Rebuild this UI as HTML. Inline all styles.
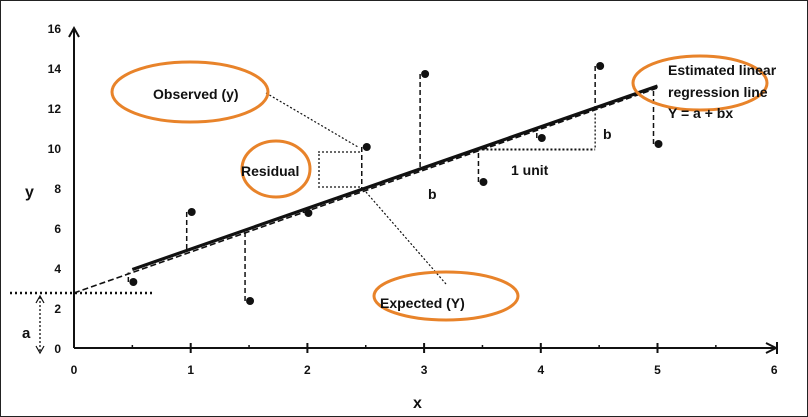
<!DOCTYPE html>
<html><head><meta charset="utf-8"><style>
html,body{margin:0;padding:0;background:#fff}
svg{display:block}
text{font-family:"Liberation Sans",Verdana,sans-serif;font-weight:bold;fill:#111}
</style></head><body>
<svg id="c" width="808" height="417" viewBox="0 0 808 417">
<rect x="0.5" y="0.5" width="807" height="416" fill="#fff" stroke="#222"/>
<g id="g"></g>
</svg>
<script>
const xTicks=[0,1,2,3,4,5,6];
const yTicks=[0,2,4,6,8,10,12,14,16];
const obsX=[0.5,1,1.5,2,2.5,3,3.5,4,4.5,5];
const obsY=[3.3,6.8,2.35,6.75,10.05,13.7,8.3,10.5,14.1,10.2];
const intercept=[2.75];
const slope=[2.05];
const X=v=>74+v*116.7, Y=v=>348-v*20;
const ns="http://www.w3.org/2000/svg", g=document.getElementById('g');
function el(t,a,txt){const e=document.createElementNS(ns,t);for(const k in a)e.setAttribute(k,a[k]);if(txt!=null)e.textContent=txt;g.appendChild(e);return e;}
const a=intercept[0], b=slope[0], f=x=>a+b*x;
let e=el('line',{x1:X(0),y1:Y(0),x2:778,y2:Y(0),stroke:'#111','stroke-width':2});


e=el('line',{x1:X(0),y1:Y(0),x2:X(0),y2:28,stroke:'#111','stroke-width':2});


el('path',{d:`M${X(0)-5},37 L${X(0)},28 L${X(0)+5},37`,fill:'none',stroke:'#111','stroke-width':2});
el('path',{d:`M766,${Y(0)-5} L776,${Y(0)} L766,${Y(0)+5} M777,${Y(0)-6} V${Y(0)+6}`,fill:'none',stroke:'#111','stroke-width':2});
xTicks.forEach(v=>{
  if(v>0&&v<6) el('line',{x1:X(v),y1:Y(0)-5,x2:X(v),y2:Y(0)+5,stroke:'#111','stroke-width':2});
  if(v<6) el('line',{x1:X(v+0.5),y1:Y(0)-3,x2:X(v+0.5),y2:Y(0),stroke:'#111','stroke-width':1.5});
  const t=el('text',{x:X(v),y:374,'text-anchor':'middle','font-size':12},String(v));
  
  
});
yTicks.forEach(v=>{
  const t=el('text',{x:61,y:Y(v)+5,'text-anchor':'end','font-size':12},String(v));
  
  
});
e=el('text',{x:25,y:197,'font-size':16},'y');


e=el('text',{x:413,y:408,'font-size':16},'x');


el('line',{x1:10,y1:Y(a),x2:152,y2:Y(a),stroke:'#111','stroke-width':2.5,'stroke-dasharray':'2,3'});
el('line',{x1:40,y1:Y(a)+4,x2:40,y2:Y(0)+4,stroke:'#111','stroke-width':1.3,'stroke-dasharray':'2,2'});
el('path',{d:`M36,${Y(a)+10} L40,${Y(a)+3} L44,${Y(a)+10} M36,${Y(0)-2} L40,${Y(0)+5} L44,${Y(0)-2}`,fill:'none',stroke:'#111','stroke-width':1.2});
e=el('text',{x:22,y:338,'font-size':15},'a');


obsX.forEach((x,i)=>{
  const l=el('line',{x1:X(x)-4,y1:Y(obsY[i]),x2:X(x)-4,y2:Y(f(x)),stroke:'#111','stroke-width':1.5,'stroke-dasharray':'5,3'});
  
  
});
e=el('line',{x1:X(0),y1:Y(f(0)),x2:X(5),y2:Y(f(5)),stroke:'#111','stroke-width':1.6,'stroke-dasharray':'6,3'});


e=el('line',{x1:X(0.5),y1:Y(f(0.5))-3,x2:X(5),y2:Y(f(5))-2,stroke:'#111','stroke-width':3.2});


obsX.forEach((x,i)=>{
  const c=el('circle',{cx:X(x)+1,cy:Y(obsY[i]),r:4,fill:'#111'});
  
  
});
el('line',{x1:X(3.5)-4,y1:Y(f(3.5)),x2:X(4.5)-4,y2:Y(f(3.5)),stroke:'#111','stroke-width':2,'stroke-dasharray':'2,2'});
el('line',{x1:X(4.5)-4,y1:Y(f(3.5))-2,x2:X(4.5)-4,y2:Y(f(4.5))+3,stroke:'#111','stroke-width':1.3,'stroke-dasharray':'2,2'});
e=el('text',{x:511,y:175,'font-size':14},'1 unit');


el('text',{x:603,y:139,'font-size':14},'b');
el('text',{x:428,y:199,'font-size':14},'b');
el('line',{x1:318,y1:152,x2:362,y2:152,stroke:'#111','stroke-width':1.3,'stroke-dasharray':'2,2'});
el('line',{x1:318,y1:187,x2:362,y2:187,stroke:'#111','stroke-width':1.3,'stroke-dasharray':'2,2'});
el('line',{x1:319,y1:154,x2:319,y2:186,stroke:'#111','stroke-width':1.3,'stroke-dasharray':'2,2'});
el('line',{x1:266,y1:93,x2:358,y2:147,stroke:'#111','stroke-width':1.2,'stroke-dasharray':'2,2'});
el('line',{x1:446,y1:284,x2:366,y2:192,stroke:'#111','stroke-width':1.2,'stroke-dasharray':'2,2'});
function blob(cx,cy,rx,ry,name){const p=el('ellipse',{cx,cy,rx,ry,fill:'none',stroke:'#e8832a','stroke-width':3});}
blob(190,92,78,30,'observed-callout');
blob(276,169,34,28,'residual-callout');
blob(446,296,72,24,'expected-callout');
blob(700,83,67,27,'regression-callout');
el('text',{x:153,y:99,'font-size':14},'Observed (y)');
el('text',{x:241,y:176,'font-size':14},'Residual');
el('text',{x:380,y:308,'font-size':14},'Expected (Y)');
el('text',{x:668,y:75,'font-size':14},'Estimated linear');
el('text',{x:668,y:97,'font-size':14},'regression line');
el('text',{x:668,y:118,'font-size':14},'Y = a + bx');
</script>
</body></html>
